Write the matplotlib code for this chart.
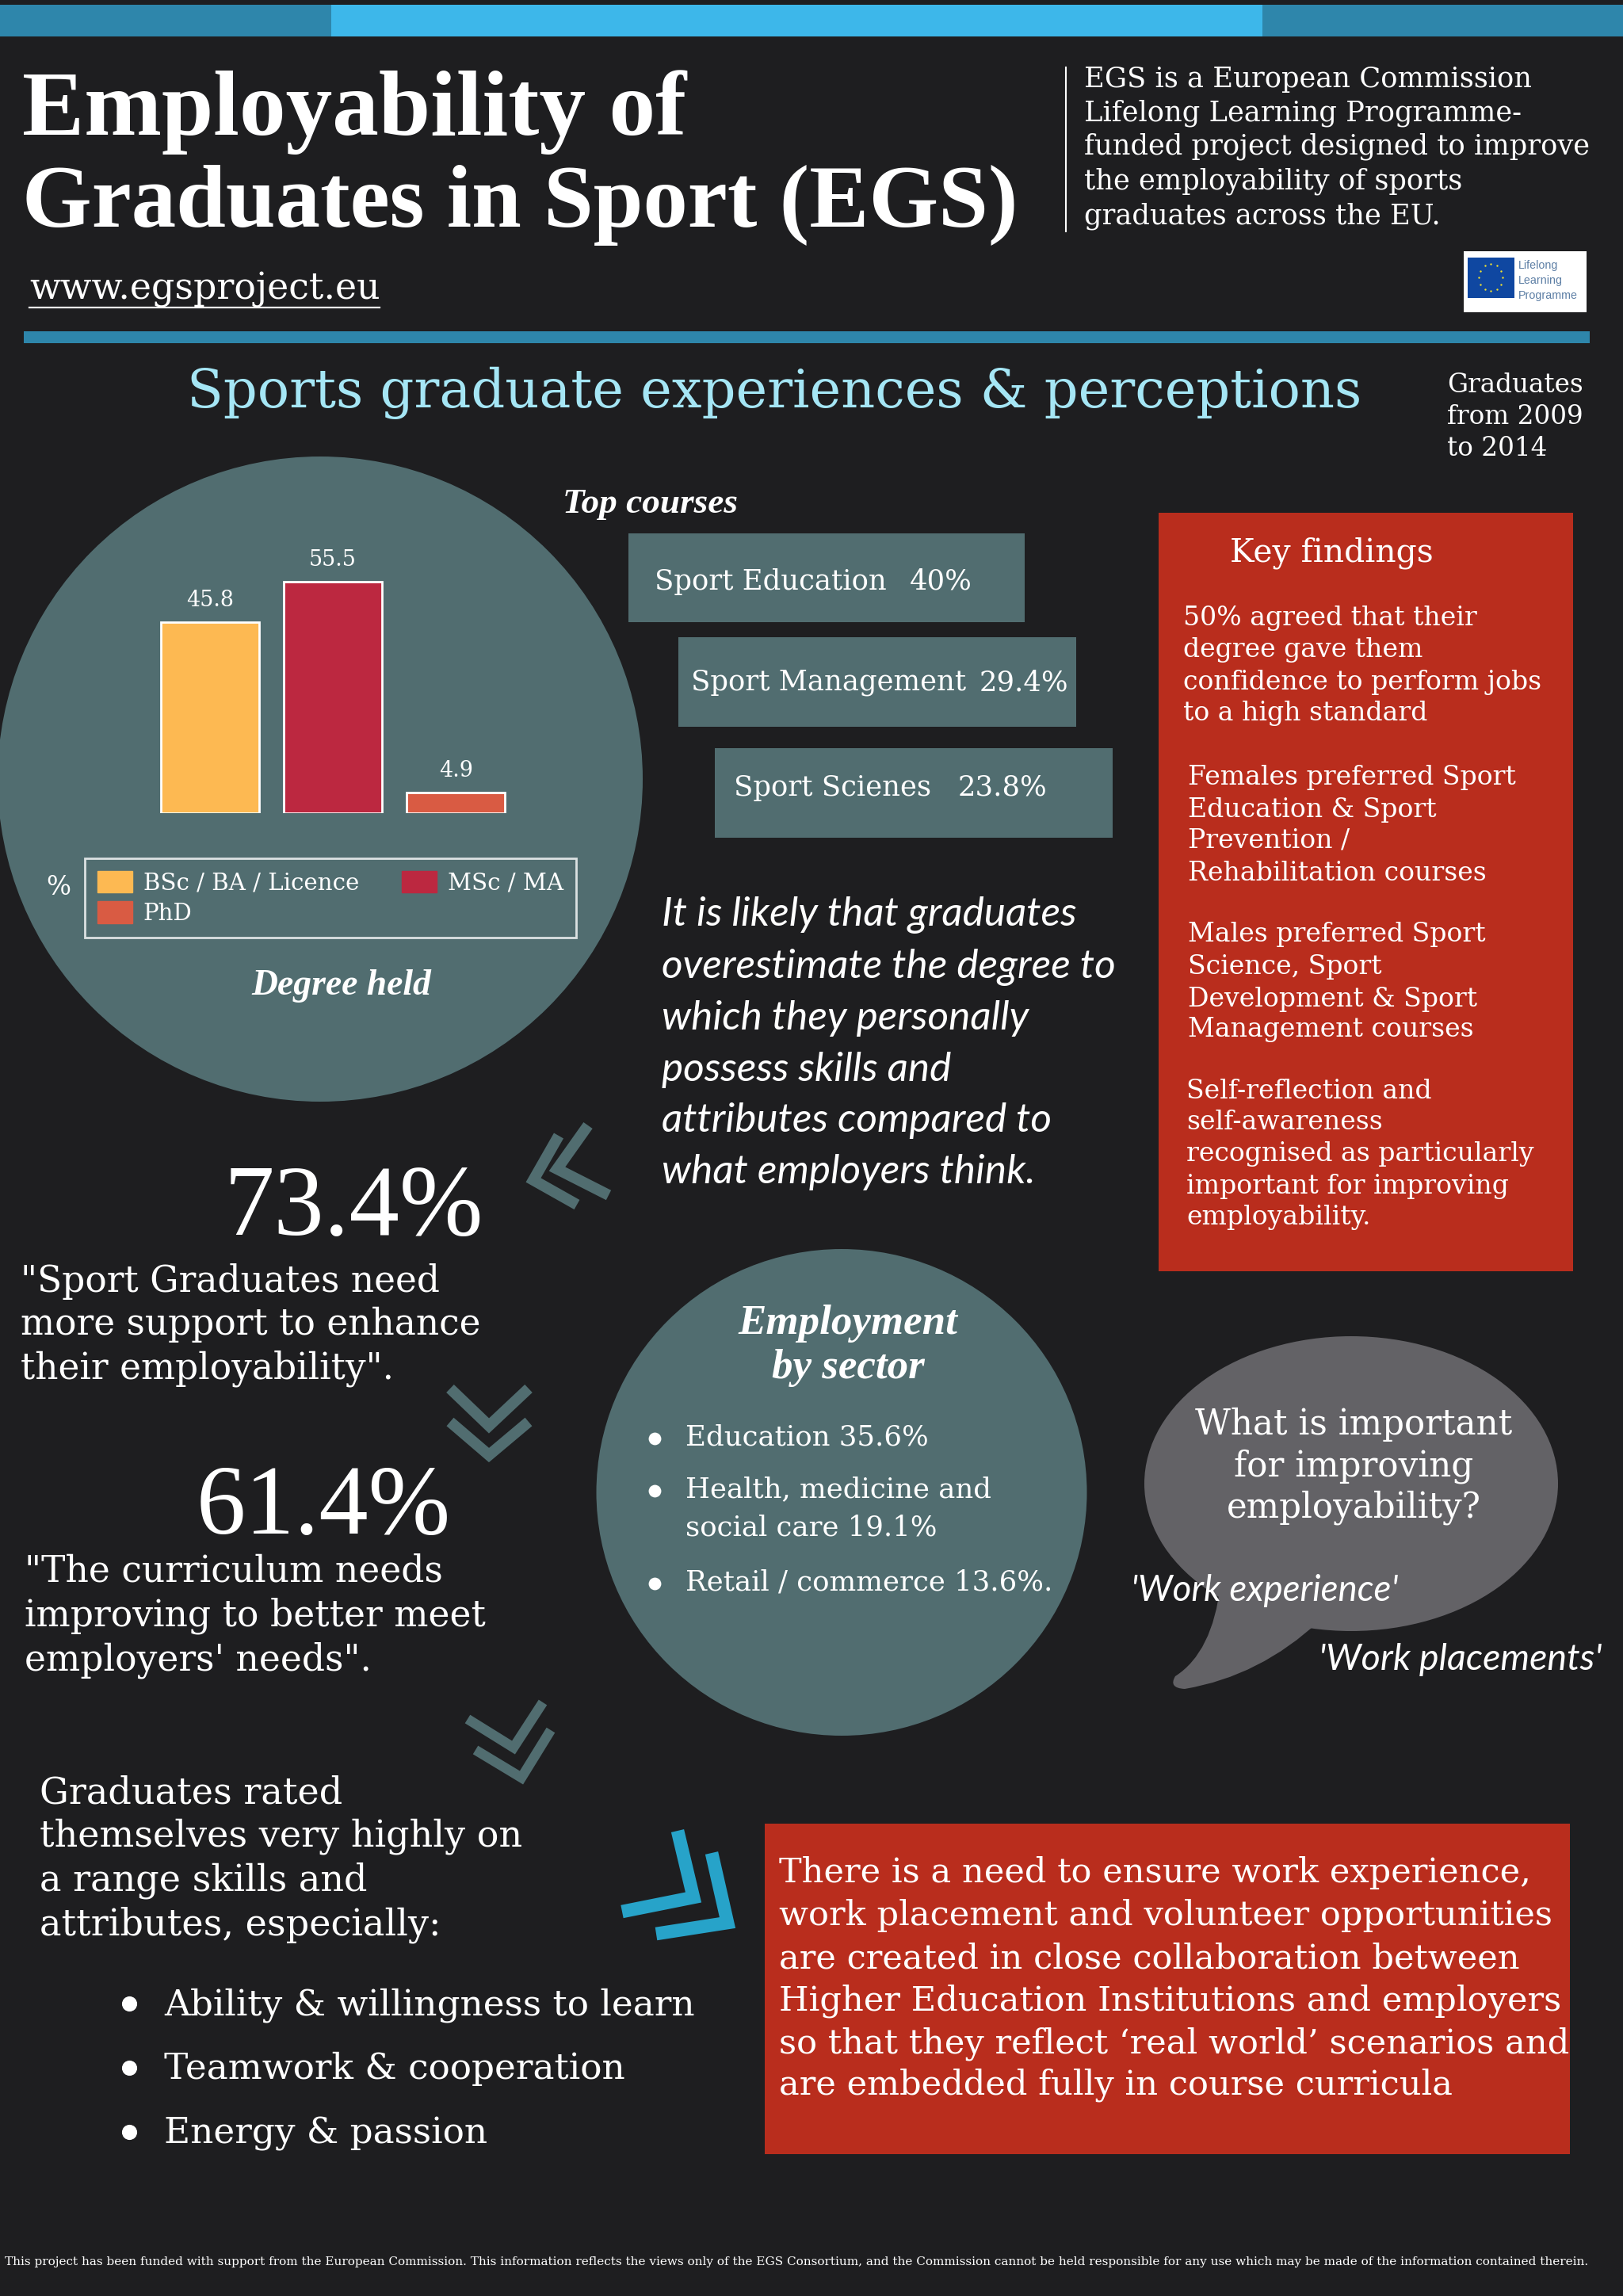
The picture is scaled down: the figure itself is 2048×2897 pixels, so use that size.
import numpy as np
import matplotlib
matplotlib.use("Agg")
import matplotlib.pyplot as plt
from matplotlib.patches import Circle, Ellipse, PathPatch, Patch, Rectangle
from matplotlib.path import Path

W, H = 2048, 2897
BG = '#1e1e20'
TEAL = '#516d70'
RED = '#b92d1d'
SERIF = 'DejaVu Serif'
DISPLAY = 'Liberation Serif'  # taller letters, for the title and other big or bold text
ITALIC_SANS = 'Lato'

# chart data
degree_labels = ['BSc / BA / Licence', 'MSc / MA', 'PhD']
degree_values = [45.8, 55.5, 4.9]
degree_colors = ['#fdb952', '#bc2840', '#d95b43']

course_names = ['Sport Education', 'Sport Management', 'Sport Scienes']
course_values = ['40%', '29.4%', '23.8%']

sector_items = ['Education 35.6%', 'Health, medicine and', 'social care 19.1%', 'Retail / commerce 13.6%.']

# text blocks
intro_lines = ['EGS is a European Commission', 'Lifelong Learning Programme-',
               'funded project designed to improve', 'the employability of sports',
               'graduates across the EU.']
findings_1 = ['50% agreed that their', 'degree gave them', 'confidence to perform jobs', 'to a high standard']
findings_2 = ['Females preferred Sport', 'Education & Sport', 'Prevention /', 'Rehabilitation courses']
findings_3 = ['Males preferred Sport', 'Science, Sport', 'Development & Sport', 'Management courses']
findings_4 = ['Self-reflection and', 'self-awareness', 'recognised as particularly', 'important for improving', 'employability.']
overestimate_lines = ['It is likely that graduates', 'overestimate the degree to', 'which they personally',
                      'possess skills and', 'attributes compared to', 'what employers think.']
quote_1 = ['"Sport Graduates need', 'more support to enhance', 'their employability".']
quote_2 = ['"The curriculum needs', 'improving to better meet', 'employers\' needs".']
rated_lines = ['Graduates rated', 'themselves very highly on', 'a range skills and', 'attributes, especially:']
skills = ['Ability & willingness to learn', 'Teamwork & cooperation', 'Energy & passion']
need_lines = ['There is a need to ensure work experience,', 'work placement and volunteer opportunities',
              'are created in close collaboration between', 'Higher Education Institutions and employers',
              'so that they reflect \u2018real world\u2019 scenarios and', 'are embedded fully in course curricula']
bubble_lines = ['What is important', 'for improving', 'employability?']
footer = ('This project has been funded with support from the European Commission. This information reflects the '
          'views only of the EGS Consortium, and the Commission cannot be held responsible for any use which may '
          'be made of the information contained therein.')

fig = plt.figure(figsize=(W / 100, H / 100), dpi=100, facecolor=BG)
ax = fig.add_axes([0, 0, 1, 1])
ax.set_xlim(0, W)
ax.set_ylim(H, 0)
ax.axis('off')
renderer = fig.canvas.get_renderer()


def fit_size(s, width, family=SERIF, **font):
    """Font size at which s comes out width pixels wide"""
    t = ax.text(0, 0, s, fontsize=20, family=family, **font)
    w = t.get_window_extent(renderer).width
    t.remove()
    return 20 * width / w


def put(x, y, s, size, color='white', family=SERIF, ha='left', **font):
    return ax.text(x, y, s, fontsize=size, color=color, family=family, ha=ha, va='baseline', **font)


def block(x, ys, lines, size, **kwargs):
    for y, line in zip(ys, lines):
        put(x, y, line, size, **kwargs)


def box(x0, y0, x1, y1, color):
    ax.add_patch(Rectangle((x0, y0), x1 - x0, y1 - y0, facecolor=color, edgecolor='none'))


def chevron(xs, ys, color, lw):
    ax.plot(xs, ys, color=color, lw=lw, solid_capstyle='butt', solid_joinstyle='miter')


# header bars
box(0, 6, W, 46, '#2e86ab')
box(418, 6, 1593, 46, '#3db7ea')
box(30, 418, 2006, 433, '#2e86ab')

# title
title_font = dict(family=DISPLAY, weight='bold')
put(28, 170, 'Employability of', fit_size('Employability of', 837, **title_font), **title_font)
put(28, 286, 'Graduates in Sport (EGS)', fit_size('Graduates in Sport (EGS)', 1256, **title_font), **title_font)
put(37, 378, 'www.egsproject.eu', fit_size('www.egsproject.eu', 442))
ax.plot([37, 479], [388, 388], color='white', lw=1.6)

ax.plot([1345, 1345], [85, 292], color='white', lw=1.5)
block(1368, [110, 152, 195, 239, 282], intro_lines, fit_size(intro_lines[2], 638))

# logo
box(1847, 317, 2002, 394, 'white')
box(1852, 325, 1911, 376, '#0f47a1')
star_angles = np.arange(12) * np.pi / 6
ax.scatter(1881 + 15 * np.cos(star_angles), 350 + 17 * np.sin(star_angles), s=3, color='#f2e230', linewidths=0)
logo_size = fit_size('Programme', 74, family='Liberation Sans')
block(1916, [339, 358, 377], ['Lifelong', 'Learning', 'Programme'], logo_size, color='#5d7fa5', family='Liberation Sans')

# heading
heading = 'Sports graduate experiences & perceptions'
put(236, 514, heading, fit_size(heading, 1479), color='#a5e6f5')
block(1826, [495, 535, 575], ['Graduates', 'from 2009', 'to 2014'], fit_size('from 2009', 172))

# degree circle with the bars on top
ax.add_patch(Circle((404, 983), 407, facecolor=TEAL, edgecolor='none'))
put(58, 1129, '%', fit_size('%', 31))
bold_italic = dict(family=DISPLAY, weight='bold', style='italic')
put(431, 1255, 'Degree held', fit_size('Degree held', 227, **bold_italic), ha='center', **bold_italic)

ax_bar = fig.add_axes([187 / W, 1 - 1026 / H, 466 / W, 316 / H])
ax_bar.patch.set_alpha(0)
ax_bar.set_xlim(-0.5, 2.5)
ax_bar.set_ylim(0, 60)
ax_bar.axis('off')
bars = ax_bar.bar(range(3), degree_values, width=0.8, color=degree_colors, edgecolor='white', linewidth=2)
value_size = fit_size('45.8', 60)
ax_bar.bar_label(bars, labels=[str(v) for v in degree_values], padding=10, color='white',
                 fontsize=value_size, family=SERIF)
legend_size = fit_size(degree_labels[0], 272)
handles = [Patch(color=degree_colors[0], label=degree_labels[0]),
           Patch(color=degree_colors[2], label=degree_labels[2]),
           Patch(color=degree_colors[1], label=degree_labels[1])]
leg = ax_bar.legend(handles=handles, ncol=2, loc='lower left', bbox_to_anchor=(107, 1183), bbox_transform=ax.transData,
                    frameon=True, fancybox=False, facecolor='none', edgecolor='white', framealpha=None,
                    labelcolor='white', prop={'family': SERIF, 'size': legend_size}, borderaxespad=0,
                    handlelength=1.5, handleheight=1.05, handletextpad=0.47, columnspacing=1.85,
                    labelspacing=0.3, borderpad=0.55)
leg.get_frame().set_linewidth(2)

# top courses
put(710, 647, 'Top courses', fit_size('Top courses', 221, **bold_italic), **bold_italic)
box(793, 673, 1293, 785, TEAL)
box(856, 804, 1358, 917, TEAL)
box(902, 944, 1404, 1057, TEAL)
course_size = fit_size(course_names[1], 346)
for name, value, x0, x1, y in zip(course_names, course_values, [826, 872, 926], [1148, 1236, 1209], [744, 871, 1004]):
    put(x0, y, name, course_size)
    put(x1, y, value, course_size)

# key findings
box(1462, 647, 1985, 1604, RED)
put(1552, 709, 'Key findings', fit_size('Key findings', 257))
kf_size = fit_size(findings_1[2], 451)
block(1493, [789, 829, 870, 909], findings_1, kf_size)
block(1499, [990, 1031, 1070, 1111], findings_2, kf_size)
block(1499, [1188, 1229, 1270, 1308], findings_3, kf_size)
block(1497, [1386, 1425, 1465, 1506, 1545], findings_4, kf_size)

# overestimate paragraph
block(835, [1168, 1234, 1299, 1364, 1428, 1493], overestimate_lines,
      fit_size(overestimate_lines[1], 571, family=ITALIC_SANS, style='italic'), family=ITALIC_SANS, style='italic')

# chevrons
chevron([705, 673, 728], [1433, 1489, 1520], TEAL, 10)
chevron([742, 703, 768], [1420, 1475, 1508], TEAL, 10)
chevron([568, 617, 667], [1752, 1799, 1752], TEAL, 10)
chevron([568, 617, 667], [1794, 1836, 1794], TEAL, 10)
chevron([590, 648, 685], [2169, 2205, 2148], TEAL, 9)
chevron([600, 658, 695], [2208, 2243, 2183], TEAL, 9)
chevron([855, 875, 785], [2310, 2394, 2412], '#27a3c9', 12)
chevron([898, 918, 828], [2338, 2426, 2440], '#27a3c9', 12)

# stats
put(283, 1558, '73.4%', fit_size('73.4%', 327, family=DISPLAY), family=DISPLAY)
block(26, [1630, 1684, 1739], quote_1, fit_size(quote_1[1], 580))
put(248, 1935, '61.4%', fit_size('61.4%', 321, family=DISPLAY), family=DISPLAY)
block(31, [1996, 2051, 2107], quote_2, fit_size(quote_2[1], 581))

# skills
block(50, [2275, 2330, 2386, 2441], rated_lines, fit_size(rated_lines[1], 608))
skill_ys = [2542, 2623, 2704]
block(207, skill_ys, skills, fit_size(skills[0], 669))
ax.scatter([163] * 3, [y - 14 for y in skill_ys], s=190, color='white', linewidths=0)

# employment circle
ax.add_patch(Ellipse((1062, 1883), 619, 614, facecolor=TEAL, edgecolor='none'))
emp_size = fit_size('Employment', 277, **bold_italic)
put(1070, 1683, 'Employment', emp_size, ha='center', **bold_italic)
put(1070, 1739, 'by sector', emp_size, ha='center', **bold_italic)
sector_ys = [1823, 1889, 1937, 2006]
block(865, sector_ys, sector_items, fit_size(sector_items[1], 386))
ax.scatter([826] * 3, [sector_ys[0] - 8, sector_ys[1] - 8, sector_ys[3] - 8], s=130, color='white', linewidths=0)

# speech bubble
GREY = '#636266'
ax.add_patch(Ellipse((1705, 1872), 522, 372, facecolor=GREY, edgecolor='none'))
tail = Path([(1540, 2000), (1530, 2085), (1483, 2115), (1474, 2130), (1495, 2131), (1590, 2115), (1665, 2045), (1540, 2000)],
            [Path.MOVETO, Path.CURVE3, Path.CURVE3, Path.CURVE3, Path.CURVE3, Path.CURVE3, Path.CURVE3, Path.CLOSEPOLY])
ax.add_patch(PathPatch(tail, facecolor=GREY, edgecolor='none'))
bubble_size = fit_size(bubble_lines[0], 399)
for y, line in zip([1810, 1863, 1915], bubble_lines):
    put(1708, y, line, bubble_size, ha='center')
put(1427, 2020, "'Work experience'", fit_size("'Work experience'", 337, family=ITALIC_SANS, style='italic'),
    family=ITALIC_SANS, style='italic')
put(1664, 2107, "'Work placements'", fit_size("'Work placements'", 357, family=ITALIC_SANS, style='italic'),
    family=ITALIC_SANS, style='italic')

# need box
box(965, 2301, 1981, 2718, RED)
block(983, [2375, 2429, 2483, 2536, 2590, 2643], need_lines, fit_size(need_lines[3], 985))

# footer
put(6, 2858, footer, fit_size(footer, 1994))

fig.savefig('out.png', dpi=100, facecolor=BG)
